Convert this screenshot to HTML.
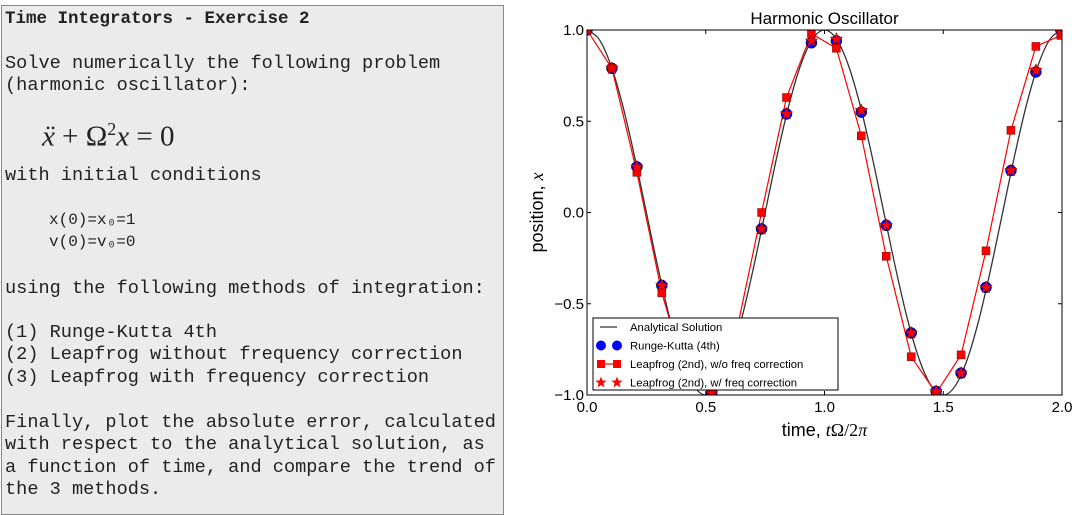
<!DOCTYPE html>
<html><head><meta charset="utf-8"><style>
body{margin:0;width:1091px;height:512px;background:#fff;position:relative;overflow:hidden}
#panel{position:absolute;left:1px;top:5px;width:503px;height:510px;background:#ebebeb;border:1px solid #888;box-sizing:border-box}
.ln{position:absolute;left:5px;font-family:"Liberation Mono",monospace;font-size:18.6px;line-height:22px;white-space:pre;color:#222}
svg text{font-family:"Liberation Sans",sans-serif}
</style></head><body>
<div id="panel"></div>
<div class="ln" style="top:8px;font-weight:bold;font-size:17.5px">Time Integrators - Exercise 2</div>
<div class="ln" style="top:53px">Solve numerically the following problem</div>
<div class="ln" style="top:75px">(harmonic oscillator):</div>
<div class="ln" style="top:113px;left:42px;font-family:'Liberation Serif',serif;font-size:29px;line-height:32px"><i>ẍ</i> + Ω<sup style="font-size:18px">2</sup><i>x</i> = 0</div>
<div class="ln" style="top:165px">with initial conditions</div>
<div class="ln" style="top:209px;left:49px;font-size:16px">x(0)=x₀=1</div>
<div class="ln" style="top:231px;left:49px;font-size:16px">v(0)=v₀=0</div>
<div class="ln" style="top:278px">using the following methods of integration:</div>
<div class="ln" style="top:322px">(1) Runge-Kutta 4th</div>
<div class="ln" style="top:344px">(2) Leapfrog without frequency correction</div>
<div class="ln" style="top:367px">(3) Leapfrog with frequency correction</div>
<div class="ln" style="top:412px">Finally, plot the absolute error, calculated</div>
<div class="ln" style="top:434px">with respect to the analytical solution, as</div>
<div class="ln" style="top:457px">a function of time, and compare the trend of</div>
<div class="ln" style="top:479px">the 3 methods.</div>

<svg id="chart" width="1091" height="512" style="position:absolute;left:0;top:0"></svg>
<script>
const tAnalytic=[0,0.05,0.1,0.15,0.2,0.25,0.3,0.35,0.4,0.45,0.5,0.55,0.6,0.65,0.7,0.75,0.8,0.85,0.9,0.95,1,1.05,1.1,1.15,1.2,1.25,1.3,1.35,1.4,1.45,1.5,1.55,1.6,1.65,1.7,1.75,1.8,1.85,1.9,1.95,2];
const xAnalytic=[1,0.951,0.809,0.588,0.309,0,-0.309,-0.588,-0.809,-0.951,-1,-0.951,-0.809,-0.588,-0.309,0,0.309,0.588,0.809,0.951,1,0.951,0.809,0.588,0.309,0,-0.309,-0.588,-0.809,-0.951,-1,-0.951,-0.809,-0.588,-0.309,0,0.309,0.588,0.809,0.951,1];
const tSteps=[0,0.105,0.21,0.315,0.42,0.525,0.63,0.735,0.84,0.945,1.05,1.155,1.26,1.365,1.47,1.575,1.68,1.785,1.89,1.995];
const xRK=[1,0.79,0.25,-0.40,-0.87,-0.99,-0.70,-0.09,0.54,0.93,0.94,0.55,-0.07,-0.66,-0.98,-0.88,-0.41,0.23,0.77,1.0];
const xLFnoCorr=[1,0.79,0.22,-0.44,-0.91,-0.99,-0.65,0.00,0.63,0.98,0.90,0.42,-0.24,-0.79,-0.99,-0.78,-0.21,0.45,0.91,0.97];
const xLFCorr=[1,0.79,0.25,-0.40,-0.87,-0.99,-0.70,-0.09,0.54,0.94,0.95,0.56,-0.07,-0.66,-0.98,-0.88,-0.41,0.23,0.78,0.99];
const xTicks=[0,0.5,1,1.5,2], xTickLabels=["0.0","0.5","1.0","1.5","2.0"];
const yTicks=[-1,-0.5,0,0.5,1], yTickLabels=["\u22121.0","\u22120.5","0.0","0.5","1.0"];

const L=587,R=1062,T=30,B=395;
const sx=v=>L+(v-0)/(2-0)*(R-L);
const sy=v=>B-(v+1)/2*(B-T);
const svg=document.getElementById('chart');
const NS='http://www.w3.org/2000/svg';
function mk(tag,attrs,parent){const e=document.createElementNS(NS,tag);for(const k in attrs)e.setAttribute(k,attrs[k]);(parent||svg).appendChild(e);return e;}

const defs=mk('defs',{});
const cp=mk('clipPath',{id:'clip'},defs);mk('rect',{x:L,y:T,width:R-L,height:B-T},cp);
const plot=mk('g',{'clip-path':'url(#clip)'});

const pts=tAnalytic.map((t,i)=>[sx(t),sy(xAnalytic[i])]);
let d='M'+pts[0][0]+','+pts[0][1];
for(let i=0;i<pts.length-1;i++){const p0=pts[Math.max(0,i-1)],p1=pts[i],p2=pts[i+1],p3=pts[Math.min(pts.length-1,i+2)];
d+=` C${p1[0]+(p2[0]-p0[0])/6},${p1[1]+(p2[1]-p0[1])/6} ${p2[0]-(p3[0]-p1[0])/6},${p2[1]-(p3[1]-p1[1])/6} ${p2[0]},${p2[1]}`;}
const an=mk('path',{d:d,fill:'none',stroke:'#333',"stroke-width":1.3},plot);



const lfLine=mk('polyline',{points:tSteps.map((t,i)=>sx(t)+','+sy(xLFnoCorr[i])).join(' '),fill:'none',stroke:'#f00',"stroke-width":1.2},plot);



function star(cx,cy,r){let p=[];for(let k=0;k<10;k++){const a=-Math.PI/2+k*Math.PI/5;const rr=k%2?r*0.42:r;p.push((cx+rr*Math.cos(a)).toFixed(1)+','+(cy+rr*Math.sin(a)).toFixed(1));}return p.join(' ');}
tSteps.forEach((t,i)=>{
 const c=mk('circle',{cx:sx(t),cy:sy(xRK[i]),r:5.5,fill:'#00f',stroke:'#000','stroke-width':0.5},plot);
 
 
 const s=mk('rect',{x:sx(t)-4,y:sy(xLFnoCorr[i])-4,width:8,height:8,fill:'#f00',stroke:'#800','stroke-width':0.5},plot);
 
 
 const st=mk('polygon',{points:star(sx(t),sy(xLFCorr[i]),6.5),fill:'#f00',stroke:'#800','stroke-width':0.5},plot);
 
 
});

const frame=mk('rect',{x:L,y:T,width:R-L,height:B-T,fill:'none',stroke:'#000','stroke-width':1});



xTicks.forEach((v,i)=>{
 mk('line',{x1:sx(v),x2:sx(v),y1:B,y2:B-4,stroke:'#000'});mk('line',{x1:sx(v),x2:sx(v),y1:T,y2:T+4,stroke:'#000'});
 const tx=mk('text',{x:sx(v),y:B+17,'text-anchor':'middle','font-size':15});tx.textContent=xTickLabels[i];
 
 
});
yTicks.forEach((v,i)=>{
 mk('line',{x1:L,x2:L+4,y1:sy(v),y2:sy(v),stroke:'#000'});mk('line',{x1:R,x2:R-4,y1:sy(v),y2:sy(v),stroke:'#000'});
 const tx=mk('text',{x:L-3,y:sy(v)+5,'text-anchor':'end','font-size':15});tx.textContent=yTickLabels[i];
 
 
});
const title=mk('text',{x:(L+R)/2,y:24,'text-anchor':'middle','font-size':17});title.textContent='Harmonic Oscillator';


const xl=mk('text',{x:(L+R)/2,y:436,'text-anchor':'middle','font-size':18});xl.innerHTML='time, <tspan font-family="Liberation Serif" font-style="italic">t</tspan><tspan font-family="Liberation Serif">Ω/2</tspan><tspan font-family="Liberation Serif" font-style="italic">π</tspan>';


const yl=mk('text',{x:0,y:0,'text-anchor':'middle','font-size':18,transform:`translate(543,${(T+B)/2}) rotate(-90)`});yl.innerHTML='position, <tspan font-family="Liberation Serif" font-style="italic">x</tspan>';



const lg=mk('g',{});


mk('rect',{x:593,y:318,width:245,height:72,fill:'#fff',stroke:'#000','stroke-width':1},lg);
const labels=['Analytical Solution','Runge-Kutta (4th)','Leapfrog (2nd), w/o freq correction','Leapfrog (2nd), w/  freq correction'];
labels.forEach((lab,i)=>{
 const y=327+i*18.5;
 if(i==0)mk('line',{x1:600,x2:617,y1:y,y2:y,stroke:'#333','stroke-width':1.3},lg);
 if(i==1){mk('circle',{cx:601,cy:y,r:5,fill:'#00f'},lg);mk('circle',{cx:617,cy:y,r:5,fill:'#00f'},lg);}
 if(i==2){mk('line',{x1:601,x2:617,y1:y,y2:y,stroke:'#f00','stroke-width':1.2},lg);mk('rect',{x:597,y:y-4,width:8,height:8,fill:'#f00'},lg);mk('rect',{x:613,y:y-4,width:8,height:8,fill:'#f00'},lg);}
 if(i==3){mk('polygon',{points:star(601,y,6),fill:'#f00'},lg);mk('polygon',{points:star(617,y,6),fill:'#f00'},lg);}
 const tx=mk('text',{x:630,y:y+4,'font-size':11.3,'xml:space':'preserve'},lg);tx.textContent=lab;
 
 
});
</script>
</body></html>
